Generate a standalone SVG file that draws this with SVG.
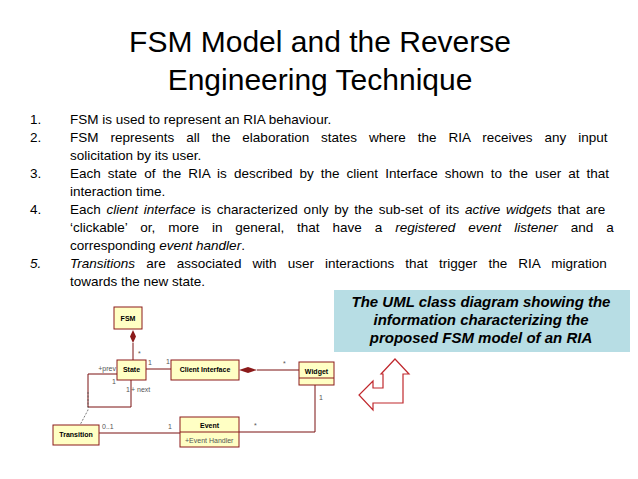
<svg xmlns="http://www.w3.org/2000/svg" width="638" height="479" viewBox="0 0 638 479">
<style>
.t{font-family:"Liberation Sans",Arial,sans-serif;font-size:13.5px;fill:#000}
.h{font-family:"Liberation Sans",Arial,sans-serif;font-size:30px;fill:#000;text-anchor:middle}
.b{fill:#ffffc4;stroke:#8b1a1a;stroke-width:1}
.bl{font-family:"Liberation Sans",Arial,sans-serif;font-size:7px;font-weight:bold;text-anchor:middle}
.s{font-family:"Liberation Sans",Arial,sans-serif;font-size:7px;fill:#555}
.c{stroke:#7a1010;stroke-width:1;fill:none}
.cap{font-family:"Liberation Sans",Arial,sans-serif;font-size:15px;font-weight:bold;font-style:italic;text-anchor:middle}
</style>
<rect width="638" height="479" fill="#fff"/>
<text class="h" x="320" y="52">FSM Model and the Reverse</text>
<text class="h" x="320" y="90">Engineering Technique</text>
<g class="t">
<text x="30" y="124">1.</text><text x="70" y="124">FSM is used to represent an RIA behaviour.</text>
<text x="30" y="142">2.</text><text x="70" y="142" word-spacing="8.2">FSM represents all the elaboration states where the RIA receives any input</text>
<text x="70" y="160">solicitation by its user.</text>
<text x="30" y="178">3.</text><text x="70" y="178" word-spacing="3.3">Each state of the RIA is described by the client Interface shown to the user at that</text>
<text x="70" y="196">interaction time.</text>
<text x="30" y="214">4.</text><text x="70" y="214" word-spacing="2">Each <tspan font-style="italic">client interface</tspan> is characterized only by the sub-set of its <tspan font-style="italic">active widgets</tspan> that are</text>
<text x="70" y="232" word-spacing="9.2">‘clickable’ or, more in general, that have a <tspan font-style="italic">registered event listener</tspan> and a</text>
<text x="70" y="250">corresponding <tspan font-style="italic">event handler</tspan>.</text>
<text x="30" y="268" font-style="italic">5.</text><text x="70" y="268" word-spacing="7.4"><tspan font-style="italic">Transitions</tspan> are associated with user interactions that trigger the RIA migration</text>
<text x="70" y="286">towards the new state.</text>
</g>
<g id="caption">
<rect x="334" y="290" width="296" height="62" fill="#b7dde4"/>
<text class="cap" x="481" y="307">The UML class diagram showing the</text>
<text class="cap" x="481" y="325">information characterizing the</text>
<text class="cap" x="481" y="343">proposed FSM model of an RIA</text>
</g>
<g id="bentarrow"><polygon points="395,359 409,374 403,374 403,403 373,403 373,410 359,395 373,381 373,388 383,388 383,374 381,374" fill="#fff" stroke="#c0282d" stroke-width="1.2"/></g>
<g id="connectors">
<line class="c" x1="133" y1="343" x2="133" y2="360"/>
<polygon points="133,330 136,336.5 133,343 130,336.5" fill="#8b1a1a"/>
<line class="c" x1="146" y1="369" x2="171" y2="369"/>
<line class="c" x1="257" y1="370" x2="299" y2="370"/>
<polygon points="239,370 248,367 257,370 248,373" fill="#8b1a1a"/>
<polyline class="c" points="117,374 88,374 88,407 131,407 131,380"/>
<polyline points="88,392 88,410 80,425" fill="none" stroke="#555" stroke-width="0.8" stroke-dasharray="2,1.5"/>
<line class="c" x1="99" y1="433" x2="180" y2="433"/>
<polyline class="c" points="239,432 315,432 315,385"/>
<g class="s">
<text x="138" y="356">*</text><text x="148" y="365">1</text><text x="166" y="364">1</text><text x="283" y="366">*</text>
<text x="116" y="371" text-anchor="end">+prev</text><text x="112" y="384">1</text><text x="126" y="392">1</text><text x="131" y="392">+ next</text>
<text x="319" y="400">1</text><text x="102" y="429">0..1</text><text x="168" y="429">1</text><text x="254" y="428">*</text>
</g>
</g>
<g id="FSM"><rect class="b" x="114" y="307" width="28" height="22"/><text class="bl" x="128" y="321">FSM</text></g>
<g id="State"><rect class="b" x="117" y="360" width="29" height="20"/><text class="bl" x="131.5" y="372">State</text></g>
<g id="ClientInterface"><rect class="b" x="171" y="360" width="68" height="20"/><text class="bl" x="205" y="372">Client Interface</text></g>
<g id="Widget"><rect class="b" x="299" y="362" width="35" height="23"/><line x1="299" y1="378" x2="334" y2="378" stroke="#8b1a1a"/><text class="bl" x="316.5" y="374">Widget</text></g>
<g id="Event"><rect class="b" x="180" y="417" width="59" height="30"/><line x1="180" y1="432" x2="239" y2="432" stroke="#8b1a1a"/><text class="bl" x="209.5" y="428">Event</text><text class="s" x="185" y="443">+Event Handler</text></g>
<g id="Transition"><rect class="b" x="53" y="425" width="46" height="20"/><text class="bl" x="76" y="437">Transition</text></g>
</svg>
